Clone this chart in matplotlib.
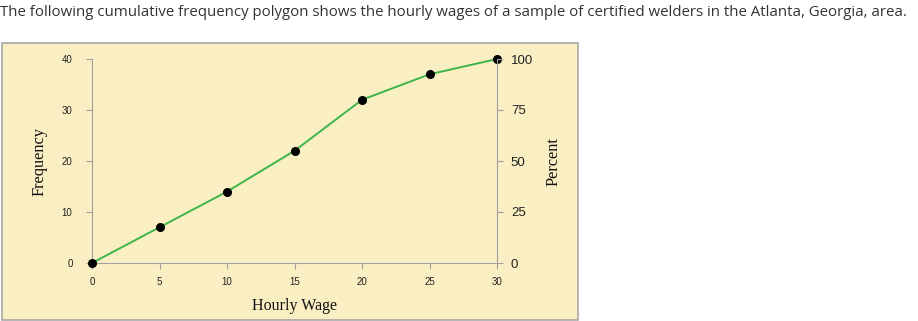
import matplotlib
matplotlib.use("Agg")
import matplotlib.pyplot as plt
from matplotlib.patches import Rectangle

wages = [0, 5, 10, 15, 20, 25, 30]
cum_freq = [0, 7, 14, 22, 32, 37, 40]
freq_ticks = [0, 10, 20, 30, 40]
pct_ticks = [0, 25, 50, 75, 100]

title = ("The following cumulative frequency polygon shows the hourly wages "
         "of a sample of certified welders in the Atlanta, Georgia, area.")

fig = plt.figure(figsize=(9.18, 3.21), dpi=100)
W, H = 918, 321

# yellow panel behind the chart
fig.patches.append(Rectangle((2 / W, 1 - 320 / H), 576 / W, 277 / H,
                             transform=fig.transFigure, facecolor="#FAEFC3",
                             edgecolor="#A8A8A8", linewidth=1.2, zorder=-5))

fig.text(0.0, 1 - 12 / H, title, fontsize=10.8, family="Open Sans",
         color="#333333", va="center", ha="left")

ax = fig.add_axes([92 / W, 1 - 263 / H, 405 / W, 204 / H])
ax.set_facecolor("none")
ax2 = ax.twinx()

ax.plot(wages, cum_freq, color="#3DB54A", lw=1.4, marker="o", ms=5.5,
        mfc="black", mec="black", clip_on=False, zorder=3)

ax.set_xlim(0, 30)
ax.set_ylim(0, 40)
ax2.set_ylim(0, 100)
ax.set_xticks(wages)
ax.set_yticks(freq_ticks)
ax2.set_yticks(pct_ticks)

grey = "#A0A0A0"
for s in ["top", "right"]:
    ax.spines[s].set_visible(False)
for s in ["top", "left", "bottom"]:
    ax2.spines[s].set_visible(False)
for s in ["left", "bottom"]:
    ax.spines[s].set_color(grey)
ax2.spines["right"].set_color(grey)

ax.tick_params(axis="both", colors=grey, labelcolor="#222222", length=4,
               labelsize=7, width=0.8)
ax.tick_params(axis="x", pad=6)
ax.tick_params(axis="y", pad=10)
ax2.tick_params(axis="y", colors=grey, labelcolor="#222222", length=4,
                labelsize=9.5, width=0.8, pad=6)
for lab in ax.get_xticklabels() + ax.get_yticklabels() + ax2.get_yticklabels():
    lab.set_family("Liberation Sans")

ax.set_xlabel("Hourly Wage", family="Liberation Serif", fontsize=11.5,
              color="#111111", labelpad=8)
ax.set_ylabel("Frequency", family="Liberation Serif", fontsize=11.8,
              color="#111111", labelpad=10)
ax2.set_ylabel("Percent", family="Liberation Serif", fontsize=11.8,
               color="#111111", labelpad=9)

fig.savefig("out.png", dpi=100)
